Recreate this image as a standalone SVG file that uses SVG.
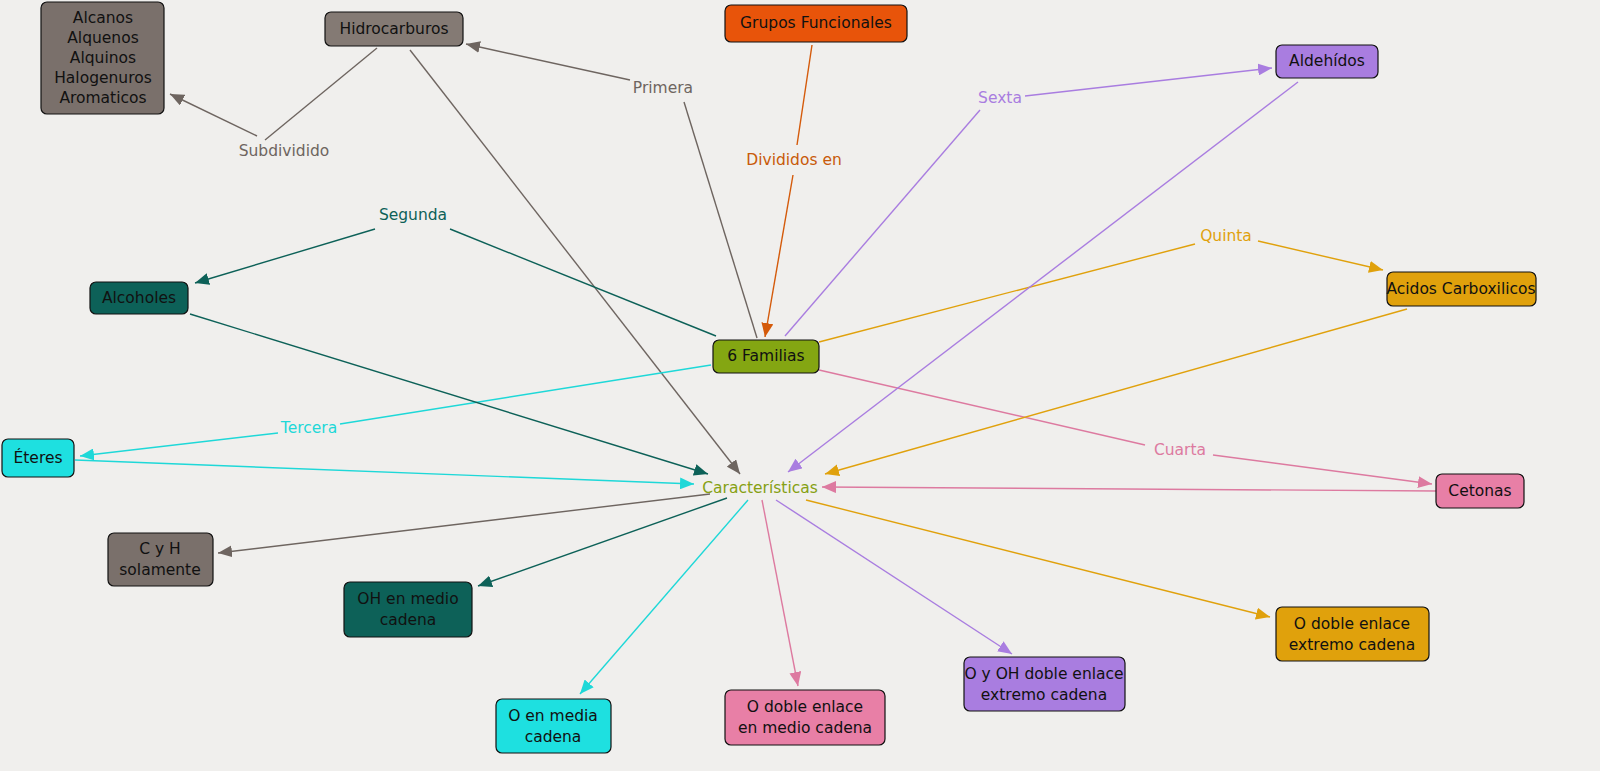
<svg xmlns="http://www.w3.org/2000/svg" width="1600" height="771" viewBox="0 0 1600 771">
<style>
text{font-family:"DejaVu Sans","Verdana",sans-serif;font-size:15.5px;text-anchor:middle;dominant-baseline:central}
.n rect{stroke:#111;stroke-width:1.2}
.n text{fill:#111}
.e line{stroke-width:1.4;fill:none}
.g{stroke:#6e6560}.t{stroke:#0d6158}.o{stroke:#d45a0a}.p{stroke:#a97de0}.y{stroke:#e0a10c}.c{stroke:#1ed8d8}.k{stroke:#dd7aa0}
</style>
<defs>
<marker id="ag" markerUnits="userSpaceOnUse" markerWidth="16" markerHeight="12" refX="14" refY="6" orient="auto"><path d="M0,0L14,6L0,12z" fill="#6e6560"/></marker>
<marker id="at" markerUnits="userSpaceOnUse" markerWidth="16" markerHeight="12" refX="14" refY="6" orient="auto"><path d="M0,0L14,6L0,12z" fill="#0d6158"/></marker>
<marker id="ao" markerUnits="userSpaceOnUse" markerWidth="16" markerHeight="12" refX="14" refY="6" orient="auto"><path d="M0,0L14,6L0,12z" fill="#d45a0a"/></marker>
<marker id="ap" markerUnits="userSpaceOnUse" markerWidth="16" markerHeight="12" refX="14" refY="6" orient="auto"><path d="M0,0L14,6L0,12z" fill="#a97de0"/></marker>
<marker id="ay" markerUnits="userSpaceOnUse" markerWidth="16" markerHeight="12" refX="14" refY="6" orient="auto"><path d="M0,0L14,6L0,12z" fill="#e0a10c"/></marker>
<marker id="ac" markerUnits="userSpaceOnUse" markerWidth="16" markerHeight="12" refX="14" refY="6" orient="auto"><path d="M0,0L14,6L0,12z" fill="#1ed8d8"/></marker>
<marker id="ak" markerUnits="userSpaceOnUse" markerWidth="16" markerHeight="12" refX="14" refY="6" orient="auto"><path d="M0,0L14,6L0,12z" fill="#dd7aa0"/></marker>
</defs>
<rect width="1600" height="771" fill="#f0efed"/>
<g id="connectors" class="e">
<line class="g" x1="757" y1="338" x2="684" y2="102"/>
<line class="g" x1="630" y1="80" x2="466" y2="44" marker-end="url(#ag)"/>
<line class="g" x1="377" y1="48" x2="265" y2="140"/>
<line class="g" x1="257" y1="136" x2="170" y2="94" marker-end="url(#ag)"/>
<line class="g" x1="410" y1="50" x2="740" y2="474" marker-end="url(#ag)"/>
<line class="o" x1="812" y1="45" x2="797" y2="145"/>
<line class="o" x1="793" y1="175" x2="765" y2="337" marker-end="url(#ao)"/>
<line class="p" x1="785" y1="336" x2="980" y2="110"/>
<line class="p" x1="1025" y1="96" x2="1272" y2="68" marker-end="url(#ap)"/>
<line class="t" x1="716" y1="336" x2="450" y2="229"/>
<line class="t" x1="375" y1="229" x2="195" y2="283" marker-end="url(#at)"/>
<line class="y" x1="819" y1="342" x2="1195" y2="244"/>
<line class="y" x1="1258" y1="241" x2="1383" y2="270" marker-end="url(#ay)"/>
<line class="c" x1="711" y1="365" x2="340" y2="424"/>
<line class="c" x1="278" y1="433" x2="80" y2="456" marker-end="url(#ac)"/>
<line class="k" x1="819" y1="370" x2="1145" y2="445"/>
<line class="k" x1="1213" y1="455" x2="1432" y2="484" marker-end="url(#ak)"/>
<line class="t" x1="190" y1="314" x2="708" y2="474" marker-end="url(#at)"/>
<line class="c" x1="75" y1="460" x2="694" y2="484" marker-end="url(#ac)"/>
<line class="p" x1="1298" y1="82" x2="788" y2="472" marker-end="url(#ap)"/>
<line class="y" x1="1407" y1="309" x2="825" y2="474" marker-end="url(#ay)"/>
<line class="k" x1="1436" y1="491" x2="822" y2="487" marker-end="url(#ak)"/>
<line class="g" x1="710" y1="494" x2="218" y2="553" marker-end="url(#ag)"/>
<line class="t" x1="727" y1="498" x2="478" y2="586" marker-end="url(#at)"/>
<line class="c" x1="748" y1="500" x2="580" y2="694" marker-end="url(#ac)"/>
<line class="k" x1="762" y1="500" x2="798" y2="686" marker-end="url(#ak)"/>
<line class="p" x1="776" y1="500" x2="1012" y2="654" marker-end="url(#ap)"/>
<line class="y" x1="806" y1="500" x2="1270" y2="617" marker-end="url(#ay)"/>
<text x="663" y="88" fill="#6e6560">Primera</text>
<text x="284" y="151" fill="#6e6560">Subdividido</text>
<text x="794" y="160" fill="#c85a0a">Divididos en</text>
<text x="1000" y="98" fill="#a97de0">Sexta</text>
<text x="413" y="215" fill="#0d6158">Segunda</text>
<text x="1226" y="236" fill="#e0a10c">Quinta</text>
<text x="309" y="428" fill="#1ed8d8">Tercera</text>
<text x="1180" y="450" fill="#dd7aa0">Cuarta</text>
</g>
<g id="alcanos" class="n"><rect x="41" y="2" width="123" height="112" rx="6" fill="#7a706b"/><text x="103" y="18">Alcanos</text><text x="103" y="38">Alquenos</text><text x="103" y="58">Alquinos</text><text x="103" y="78">Halogenuros</text><text x="103" y="98">Aromaticos</text></g>
<g id="hidrocarburos" class="n"><rect x="325" y="12" width="138" height="34" rx="6" fill="#847a74"/><text x="394" y="29">Hidrocarburos</text></g>
<g id="grupos" class="n"><rect x="725" y="5" width="182" height="37" rx="6" fill="#e8540a"/><text x="816" y="23">Grupos Funcionales</text></g>
<g id="aldehidos" class="n"><rect x="1276" y="45" width="102" height="33" rx="6" fill="#a97de0"/><text x="1327" y="61">Aldehídos</text></g>
<g id="alcoholes" class="n"><rect x="90" y="282" width="98" height="32" rx="6" fill="#0d6158"/><text x="139" y="298">Alcoholes</text></g>
<g id="familias" class="n"><rect x="713" y="340" width="106" height="33" rx="6" fill="#84a612"/><text x="766" y="356">6 Familias</text></g>
<g id="acidos" class="n"><rect x="1387" y="272" width="149" height="34" rx="6" fill="#e0a10c"/><text x="1461" y="289">Acidos Carboxilicos</text></g>
<g id="eteres" class="n"><rect x="2" y="439" width="72" height="38" rx="6" fill="#1ee0e0"/><text x="38" y="458">Éteres</text></g>
<g id="cetonas" class="n"><rect x="1436" y="474" width="88" height="34" rx="6" fill="#e87fa6"/><text x="1480" y="491">Cetonas</text></g>
<g id="caracteristicas"><text x="760" y="488" fill="#86a012">Características</text></g>
<g id="cyh" class="n"><rect x="108" y="533" width="105" height="53" rx="6" fill="#7a706b"/><text x="160" y="549">C y H</text><text x="160" y="570">solamente</text></g>
<g id="oh" class="n"><rect x="344" y="582" width="128" height="55" rx="6" fill="#0d6158"/><text x="408" y="599">OH en medio</text><text x="408" y="620">cadena</text></g>
<g id="omedia" class="n"><rect x="496" y="699" width="115" height="54" rx="6" fill="#1ee0e0"/><text x="553" y="716">O en media</text><text x="553" y="737">cadena</text></g>
<g id="odoblemedio" class="n"><rect x="725" y="690" width="160" height="55" rx="6" fill="#e87fa6"/><text x="805" y="707">O doble enlace</text><text x="805" y="728">en medio cadena</text></g>
<g id="oyoh" class="n"><rect x="964" y="657" width="161" height="54" rx="6" fill="#a97de0"/><text x="1044" y="674">O y OH doble enlace</text><text x="1044" y="695">extremo cadena</text></g>
<g id="odobleextremo" class="n"><rect x="1276" y="607" width="153" height="54" rx="6" fill="#e0a10c"/><text x="1352" y="624">O doble enlace</text><text x="1352" y="645">extremo cadena</text></g>
</svg>
